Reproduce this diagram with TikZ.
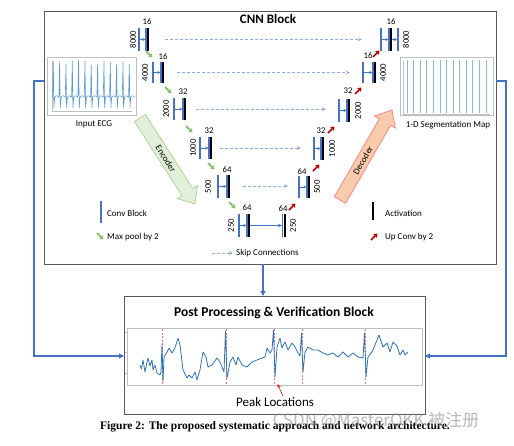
\documentclass[tikz,border=0pt]{standalone}
\usepackage{fontspec}
\setmainfont{Carlito}
\newfontfamily\capfont{Liberation Serif}
\newfontfamily\wmfont{Noto Sans CJK SC}
\usetikzlibrary{arrows.meta}
\definecolor{cblue}{HTML}{4472C4}
\definecolor{skipblue}{HTML}{8FAADC}
\definecolor{poolgreen}{HTML}{8DC26F}
\definecolor{upred}{HTML}{C00000}
\definecolor{encfill}{HTML}{E2F0D9}
\definecolor{encdraw}{HTML}{A9D18E}
\definecolor{decfill}{HTML}{F8CBAD}
\definecolor{decdraw}{HTML}{FF7C80}
\definecolor{ecgblue}{HTML}{5B9BD5}
\definecolor{sigblue}{HTML}{2E75B6}
\definecolor{boxgray}{HTML}{595959}
\definecolor{lgray}{HTML}{BFBFBF}
\definecolor{peakred}{HTML}{FF7070}
\tikzset{
  bluebar/.style={cblue, line width=1.3pt},
  blackbar/.style={black, line width=2pt},
  inarrow/.style={cblue, line width=0.8pt, -{Stealth[length=3pt,width=3pt]}},
  skiparrow/.style={skipblue, line width=0.8pt, dash pattern=on 3pt off 2pt, -{Stealth[length=4pt,width=3.5pt]}},
  poolarrow/.style={poolgreen, line width=2pt, -{Triangle[length=3.5pt,width=5pt]}},
  uparrow/.style={upred, line width=1.6pt, -{Triangle[length=3.5pt,width=5pt]}},
  numlbl/.style={font=\fontsize{8.7}{9}\selectfont, inner sep=0pt},
  lgd/.style={font=\fontsize{9}{10}\selectfont, inner sep=0pt, anchor=west},
  lbl/.style={font=\fontsize{9}{10}\selectfont, inner sep=0pt},
  conn/.style={cblue, line width=1.2pt, -{Triangle[length=5pt,width=5pt]}},
  bigbox/.style={draw=boxgray, line width=1pt, inner sep=0pt, anchor=north west},
  plotbox/.style={draw=lgray, line width=0.7pt, inner sep=0pt, anchor=north west},
  ecgline/.style={ecgblue, line width=0.6pt, line join=round},
  sigline/.style={sigblue, line width=0.8pt, line join=round},
  peakline/.style={peakred, line width=0.6pt, dash pattern=on 2pt off 1.5pt}
}
\newcommand\convblk[4]{%
  \draw[bluebar] (#1,#3) -- (#1,#4);
  \draw[inarrow] (#1+0.6,{(#3+#4)/2}) -- (#2-1.6,{(#3+#4)/2});
  \draw[bluebar] (#2-1,#3) -- (#2-1,#4);
  \draw[blackbar] (#2+0.8,#3) -- (#2+0.8,#4);
}
\begin{document}
\begin{tikzpicture}[x=1pt,y=-1pt]
\useasboundingbox[fill=white] (0,0) rectangle (514,445);

% ---------- boxes ----------
\node[bigbox, minimum width=452pt, minimum height=253pt] (cnn) at (44,11) {};
\node[font=\fontsize{13}{14}\selectfont\bfseries, inner sep=0pt] (cnnt) at (268,19) {CNN Block};
\node[bigbox, minimum width=301pt, minimum height=118pt] (post) at (124,296) {};
\node[font=\fontsize{13.5}{14}\selectfont\bfseries, inner sep=0pt] (postt) at (274,313) {Post Processing \& Verification Block};

% ---------- input ECG ----------
\node[plotbox, minimum width=89pt, minimum height=58pt] (inp) at (47,57) {};
\draw[lgray, line width=0.4pt] (52,62) -- (52,111) -- (132,111);
\draw[ecgline] (52,97) \foreach \x/\t in {53.3/61,59.6/62,66/64,72.3/61,78.6/60,85/61,91.3/65,97.6/64,104/61,110.3/62,116.6/64,123/62,129.3/64}
  { -- (\x-0.7,97) -- (\x,\t) -- (\x+0.6,108) -- (\x+1.4,97.5) -- (\x+2.6,95.8) -- (\x+4.2,96) -- (\x+5.3,97.2) };
\node[lbl] (inpl) at (94,124) {Input ECG};

% ---------- segmentation map ----------
\node[plotbox, minimum width=93pt, minimum height=58pt] (seg) at (400,57) {};
\draw[lgray, line width=0.4pt] (403,61) -- (403,114) -- (490,114);
\foreach \i in {0,...,12} { \draw[ecgblue!70, line width=0.7pt] ({407+6.58*\i},60) -- ({407+6.58*\i},113); }
\node[lbl] (segl) at (448,125) {1-D Segmentation Map};

% ---------- encoder / decoder arrows ----------
\begin{scope}[shift={(140,118)}, rotate=-57.4]
  \draw[fill=encfill, draw=encdraw, line width=0.7pt] (0,-6.5) -- (88,-6.5) -- (88,-12) -- (102,0) -- (88,12) -- (88,6.5) -- (0,6.5) -- cycle;
  \node[lbl, rotate=-57.4] (enc) at (48,0) {Encoder};
\end{scope}
\begin{scope}[shift={(340,200)}, rotate=60]
  \draw[fill=decfill, draw=decdraw, line width=0.7pt] (0,-6.5) -- (90,-6.5) -- (90,-12) -- (104,0) -- (90,12) -- (90,6.5) -- (0,6.5) -- cycle;
  \node[lbl, rotate=60] (dec) at (46,0) {Decoder};
\end{scope}

% ---------- encoder blocks ----------
\convblk{139}{147}{28}{51}
\convblk{153}{162}{62}{83}
\convblk{174}{184}{98}{120}
\convblk{200}{210}{137}{159}
\convblk{218}{228}{175}{198}
\convblk{239}{248}{214}{237}
% ---------- decoder blocks ----------
\convblk{299}{308}{176}{198}
\convblk{314}{322}{137}{160}
\convblk{339}{348}{99}{122}
\convblk{363}{374}{62}{83}
\convblk{381}{390}{28}{51}
\draw[inarrow] (392,39.5) -- (397,39.5);
\draw[bluebar] (398,28) -- (398,51);
\draw[bluebar] (282.5,214) -- (282.5,237);
\draw[blackbar] (284.5,214) -- (284.5,237);
\coordinate (b6a) at (249.5,225.5);
\coordinate (b6b) at (282,225.5);
\draw[cblue, line width=0.9pt, -{Stealth[length=4pt,width=3.5pt]}] (b6a) -- (b6b);

% ---------- size labels ----------
\foreach \x/\y/\t [count=\n] in {133/39.5/8000,145/72.5/4000,166/109/2000,193/148/1000,208/186.5/500,231/225.5/250,
   293/225.5/250,317/187/500,332/148.5/1000,358/110.5/2000,383/72.5/4000,406/39.5/8000}
  { \node[numlbl, rotate=90] (sz\n) at (\x,\y) {\t}; }
\foreach \x/\y/\t [count=\n] in {147/22/16,163/57/16,183/92/32,209/131/32,227/170/64,247/208/64,
   283/209/64,302/172/64,321/131/32,348/91/32,368/56/16,391/22/16}
  { \node[numlbl] (ch\n) at (\x,\y) {\t}; }

% ---------- pool / up arrows ----------
\foreach \x/\y in {149/54,168/90,189/129,211/166,232/205}
  { \draw[poolarrow] (\x-3,\y-3) -- (\x+3.5,\y+3.5); }
\foreach \x/\y in {292/207,316/168,331/130,358/91,376/54}
  { \draw[uparrow] (\x-3,\y+3) -- (\x+3.5,\y-3.5); }

% ---------- skip connections ----------
\coordinate (s1a) at (165,39.5); \coordinate (s1b) at (362,39.5);
\coordinate (s2a) at (177,72.5); \coordinate (s2b) at (350,72.5);
\coordinate (s3a) at (196,109);  \coordinate (s3b) at (326,109);
\coordinate (s4a) at (220,148);  \coordinate (s4b) at (301,148);
\coordinate (s5a) at (243,186);  \coordinate (s5b) at (288,186);
\foreach \k in {1,...,5} { \draw[skiparrow] (s\k a) -- (s\k b); }

% ---------- legend ----------
\draw[bluebar] (101,201) -- (101,223);
\node[lgd] (lg1) at (107,213) {Conv Block};
\draw[poolarrow] (97,233) -- (103.5,239.5);
\node[lgd] (lg2) at (107,237) {Max pool by 2};
\coordinate (lk1) at (212,253); \coordinate (lk2) at (233,253);
\draw[skiparrow] (lk1) -- (lk2);
\node[lgd] (lg3) at (236,253) {Skip Connections};
\draw[blackbar] (373,202) -- (373,220);
\node[lgd] (lg4) at (385,213) {Activation};
\draw[uparrow] (371,240) -- (377.5,233.5);
\node[lgd] (lg5) at (385,237) {Up Conv by 2};

% ---------- post processing plot ----------
\node[plotbox, minimum width=295pt, minimum height=57pt] (plot) at (127,328) {};
\foreach \y in {332,352,373} { \draw[lgray, line width=0.5pt] (125,\y) -- (127,\y); }
\foreach \x in {162,226,274,302,365} { \draw[peakline] (\x,329) -- (\x,385); }
\draw[sigline] (140,365) -- (141.5,369) -- (143,360) -- (145,372) -- (147,362) -- (148,358) -- (150,366) -- (152,360) -- (153,370) -- (155,365) -- (157,373) -- (160,375) -- (161,372) -- (162,344) -- (163,382) -- (164,357) -- (167,352) -- (169,348) -- (172,353) -- (175,348) -- (178,338) -- (180,345) -- (183,370) -- (187,378) -- (189,375) -- (192,378) -- (195,372) -- (197,380) -- (200,370) -- (203,352) -- (206,357) -- (208,367) -- (212,365) -- (217,358) -- (220,362) -- (224,372) -- (225.5,331) -- (227,378) -- (230,362) -- (233,357) -- (236,365) -- (238,357) -- (242,365) -- (247,367) -- (252,362) -- (257,360) -- (262,358) -- (265,357) -- (267,348) -- (270,353) -- (272,350) -- (273.5,330) -- (275,377) -- (277,347) -- (280,338) -- (282,348) -- (285,342) -- (288,350) -- (292,343) -- (295,347) -- (298,353) -- (300,356) -- (301.5,333) -- (303,372) -- (305,352) -- (308,347) -- (313,350) -- (318,350) -- (323,353) -- (328,355) -- (333,353) -- (338,357) -- (343,352) -- (348,357) -- (353,353) -- (358,357) -- (363,358) -- (364.5,333) -- (366,377) -- (368,357) -- (372,352) -- (375,345) -- (379,335) -- (383,347) -- (387,343) -- (390,352) -- (393,342) -- (397,346) -- (400,355) -- (403,350) -- (405,355) -- (408,352);
\node[font=\fontsize{13}{14}\selectfont, inner sep=0pt] (peak) at (275,402) {Peak Locations};
\coordinate (pk) at (277.5,384);
\draw[red, line width=0.6pt, -{Stealth[length=4pt,width=3.5pt]}] (peak.north) ++(8,-1) -- (pk);

% ---------- connectors ----------
\coordinate (cnnL) at (44,81);  \coordinate (postL) at (124,356);
\coordinate (cnnR) at (496,81); \coordinate (postR) at (425,356);
\coordinate (cnnB) at (263,264); \coordinate (postT) at (263,296);
\draw[conn] (cnnL) -- ++(-10,0) |- (postL);
\draw[conn] (cnnR) -- ++(10,0) |- (postR);
\draw[conn] (cnnB) -- (postT);

% ---------- caption & watermark ----------
\node[font=\capfont\bfseries\fontsize{11.5}{12}\selectfont, inner sep=0pt] (cap) at (275,427) {Figure 2: The proposed systematic approach and network architecture.};
\node[font=\wmfont\fontsize{17}{18}\selectfont, text=gray, opacity=0.55, inner sep=0pt] (wm) at (376,421) {CSDN @MasterQKK 被注册};
\end{tikzpicture}
\end{document}
